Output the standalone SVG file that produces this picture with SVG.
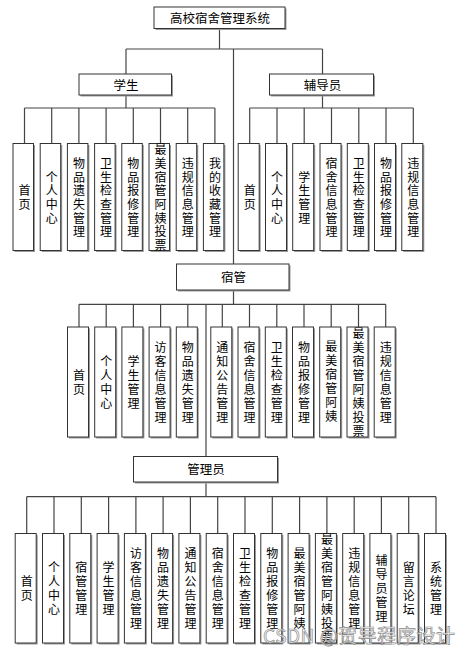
<svg xmlns="http://www.w3.org/2000/svg" width="469" height="656" viewBox="0 0 469 656">
<style>
.bx{fill:#fff;stroke:#333;stroke-width:1}
.sh{fill:#9a9a9a}
.v{font-family:"Noto Sans CJK SC","Noto Sans CJK JP",sans-serif;font-size:12px;fill:#000;text-anchor:middle;writing-mode:vertical-rl;text-orientation:upright;letter-spacing:2px}
.vs{letter-spacing:1.7px}
.h{font-family:"Noto Sans CJK SC","Noto Sans CJK JP",sans-serif;font-size:12.5px;fill:#000;text-anchor:middle}
#connectors line{stroke:#444;stroke-width:1.2}
.wm{font-family:"Noto Sans CJK SC","Noto Sans CJK JP",sans-serif;font-size:19px;fill:#fff;fill-opacity:0.75;stroke:#8a8a8a;stroke-width:0.7}
</style>
<rect width="469" height="656" fill="#fff"/>
<g id="connectors">
<line x1="219.5" y1="29" x2="219.5" y2="49"/>
<line x1="126" y1="49" x2="322.5" y2="49"/>
<line x1="233.5" y1="49" x2="233.5" y2="264"/>
<line x1="126" y1="49" x2="126" y2="74"/>
<line x1="322.5" y1="49" x2="322.5" y2="74"/>
<line x1="126" y1="96" x2="126" y2="108"/>
<line x1="24.5" y1="108" x2="214.9" y2="108"/>
<line x1="24.5" y1="108" x2="24.5" y2="143.5"/>
<line x1="51.7" y1="108" x2="51.7" y2="143.5"/>
<line x1="78.9" y1="108" x2="78.9" y2="143.5"/>
<line x1="106.1" y1="108" x2="106.1" y2="143.5"/>
<line x1="133.3" y1="108" x2="133.3" y2="143.5"/>
<line x1="160.5" y1="108" x2="160.5" y2="143.5"/>
<line x1="187.7" y1="108" x2="187.7" y2="143.5"/>
<line x1="214.9" y1="108" x2="214.9" y2="143.5"/>
<line x1="322.5" y1="96" x2="322.5" y2="108"/>
<line x1="249.7" y1="108" x2="413.3" y2="108"/>
<line x1="249.7" y1="108" x2="249.7" y2="143.5"/>
<line x1="277" y1="108" x2="277" y2="143.5"/>
<line x1="304.2" y1="108" x2="304.2" y2="143.5"/>
<line x1="331.5" y1="108" x2="331.5" y2="143.5"/>
<line x1="358.8" y1="108" x2="358.8" y2="143.5"/>
<line x1="386" y1="108" x2="386" y2="143.5"/>
<line x1="413.3" y1="108" x2="413.3" y2="143.5"/>
<line x1="233.5" y1="291" x2="233.5" y2="304.3"/>
<line x1="79" y1="304.3" x2="385.7" y2="304.3"/>
<line x1="79" y1="304.3" x2="79" y2="327"/>
<line x1="106.2" y1="304.3" x2="106.2" y2="327"/>
<line x1="133.4" y1="304.3" x2="133.4" y2="327"/>
<line x1="160.6" y1="304.3" x2="160.6" y2="327"/>
<line x1="187.8" y1="304.3" x2="187.8" y2="327"/>
<line x1="222.3" y1="304.3" x2="222.3" y2="327"/>
<line x1="249.5" y1="304.3" x2="249.5" y2="327"/>
<line x1="276.8" y1="304.3" x2="276.8" y2="327"/>
<line x1="304" y1="304.3" x2="304" y2="327"/>
<line x1="331.2" y1="304.3" x2="331.2" y2="327"/>
<line x1="358.5" y1="304.3" x2="358.5" y2="327"/>
<line x1="385.7" y1="304.3" x2="385.7" y2="327"/>
<line x1="206" y1="304.3" x2="206" y2="456.7"/>
<line x1="206" y1="483.3" x2="206" y2="496.7"/>
<line x1="26.7" y1="496.7" x2="436" y2="496.7"/>
<line x1="26.7" y1="496.7" x2="26.7" y2="533.5"/>
<line x1="54" y1="496.7" x2="54" y2="533.5"/>
<line x1="81.3" y1="496.7" x2="81.3" y2="533.5"/>
<line x1="108.6" y1="496.7" x2="108.6" y2="533.5"/>
<line x1="135.9" y1="496.7" x2="135.9" y2="533.5"/>
<line x1="163.1" y1="496.7" x2="163.1" y2="533.5"/>
<line x1="190.4" y1="496.7" x2="190.4" y2="533.5"/>
<line x1="217.7" y1="496.7" x2="217.7" y2="533.5"/>
<line x1="245" y1="496.7" x2="245" y2="533.5"/>
<line x1="272.3" y1="496.7" x2="272.3" y2="533.5"/>
<line x1="299.6" y1="496.7" x2="299.6" y2="533.5"/>
<line x1="326.9" y1="496.7" x2="326.9" y2="533.5"/>
<line x1="354.2" y1="496.7" x2="354.2" y2="533.5"/>
<line x1="381.4" y1="496.7" x2="381.4" y2="533.5"/>
<line x1="408.7" y1="496.7" x2="408.7" y2="533.5"/>
<line x1="436" y1="496.7" x2="436" y2="533.5"/>
</g>

<g id="root"><rect class="sh" x="155.5" y="8.5" width="131" height="21.5"/><rect class="bx" x="154" y="7" width="131" height="21.5"/><text class="h" x="220" y="22.5">高校宿舍管理系统</text></g>
<g id="student"><rect class="sh" x="80.5" y="75.5" width="92.5" height="21"/><rect class="bx" x="79" y="74" width="92.5" height="21"/><text class="h" x="126" y="89.5">学生</text></g>
<g id="counselor"><rect class="sh" x="271" y="75.5" width="104" height="21"/><rect class="bx" x="269.5" y="74" width="104" height="21"/><text class="h" x="322.5" y="89.5">辅导员</text></g>
<g id="dormmgr"><rect class="sh" x="178" y="265.5" width="112.5" height="26"/><rect class="bx" x="176.5" y="264" width="112.5" height="26"/><text class="h" x="233.5" y="281.5">宿管</text></g>
<g id="admin"><rect class="sh" x="135" y="458" width="144" height="25.5"/><rect class="bx" x="133.5" y="456.5" width="144" height="25.5"/><text class="h" x="206" y="474">管理员</text></g>

<!-- student children -->
<g id="s1"><rect class="sh" x="14.5" y="145" width="20.5" height="107"/><rect class="bx" x="13" y="143.5" width="20.5" height="107"/><text class="v vs" x="24.5" y="198.4">首页</text></g>
<g id="s2"><rect class="sh" x="41.7" y="145" width="20.5" height="107"/><rect class="bx" x="40.2" y="143.5" width="20.5" height="107"/><text class="v vs" x="51.7" y="198.4">个人中心</text></g>
<g id="s3"><rect class="sh" x="68.9" y="145" width="20.5" height="107"/><rect class="bx" x="67.4" y="143.5" width="20.5" height="107"/><text class="v vs" x="78.9" y="198.4">物品遗失管理</text></g>
<g id="s4"><rect class="sh" x="96.1" y="145" width="20.5" height="107"/><rect class="bx" x="94.6" y="143.5" width="20.5" height="107"/><text class="v vs" x="106.1" y="198.4">卫生检查管理</text></g>
<g id="s5"><rect class="sh" x="123.3" y="145" width="20.5" height="107"/><rect class="bx" x="121.8" y="143.5" width="20.5" height="107"/><text class="v vs" x="133.3" y="198.4">物品报修管理</text></g>
<g id="s6"><rect class="sh" x="150.5" y="145" width="20.5" height="107"/><rect class="bx" x="149" y="143.5" width="20.5" height="107"/><text class="v vs" x="160.5" y="198.4">最美宿管阿姨投票</text></g>
<g id="s7"><rect class="sh" x="177.7" y="145" width="20.5" height="107"/><rect class="bx" x="176.2" y="143.5" width="20.5" height="107"/><text class="v vs" x="187.7" y="198.4">违规信息管理</text></g>
<g id="s8"><rect class="sh" x="204.9" y="145" width="20.5" height="107"/><rect class="bx" x="203.4" y="143.5" width="20.5" height="107"/><text class="v vs" x="214.9" y="198.4">我的收藏管理</text></g>

<!-- counselor children -->
<g id="c1"><rect class="sh" x="239.7" y="145" width="21" height="107"/><rect class="bx" x="238.2" y="143.5" width="21" height="107"/><text class="v vs" x="249.7" y="198.4">首页</text></g>
<g id="c2"><rect class="sh" x="267" y="145" width="21" height="107"/><rect class="bx" x="265.5" y="143.5" width="21" height="107"/><text class="v vs" x="277" y="198.4">个人中心</text></g>
<g id="c3"><rect class="sh" x="294.2" y="145" width="21" height="107"/><rect class="bx" x="292.7" y="143.5" width="21" height="107"/><text class="v vs" x="304.2" y="198.4">学生管理</text></g>
<g id="c4"><rect class="sh" x="321.5" y="145" width="21" height="107"/><rect class="bx" x="320" y="143.5" width="21" height="107"/><text class="v vs" x="331.5" y="198.4">宿舍信息管理</text></g>
<g id="c5"><rect class="sh" x="348.8" y="145" width="21" height="107"/><rect class="bx" x="347.3" y="143.5" width="21" height="107"/><text class="v vs" x="358.8" y="198.4">卫生检查管理</text></g>
<g id="c6"><rect class="sh" x="376" y="145" width="21" height="107"/><rect class="bx" x="374.5" y="143.5" width="21" height="107"/><text class="v vs" x="386" y="198.4">物品报修管理</text></g>
<g id="c7"><rect class="sh" x="403.3" y="145" width="21" height="107"/><rect class="bx" x="401.8" y="143.5" width="21" height="107"/><text class="v vs" x="413.3" y="198.4">违规信息管理</text></g>

<!-- dorm manager children -->
<g id="d1"><rect class="sh" x="69" y="328.5" width="21" height="110"/><rect class="bx" x="67.5" y="327" width="21" height="110"/><text class="v" x="79" y="383.5">首页</text></g>
<g id="d2"><rect class="sh" x="96.2" y="328.5" width="21" height="110"/><rect class="bx" x="94.7" y="327" width="21" height="110"/><text class="v" x="106.2" y="383.5">个人中心</text></g>
<g id="d3"><rect class="sh" x="123.4" y="328.5" width="21" height="110"/><rect class="bx" x="121.9" y="327" width="21" height="110"/><text class="v" x="133.4" y="383.5">学生管理</text></g>
<g id="d4"><rect class="sh" x="150.6" y="328.5" width="21" height="110"/><rect class="bx" x="149.1" y="327" width="21" height="110"/><text class="v" x="160.6" y="383.5">访客信息管理</text></g>
<g id="d5"><rect class="sh" x="177.8" y="328.5" width="21" height="110"/><rect class="bx" x="176.3" y="327" width="21" height="110"/><text class="v" x="187.8" y="383.5">物品遗失管理</text></g>
<g id="d6"><rect class="sh" x="212.3" y="328.5" width="21" height="110"/><rect class="bx" x="210.8" y="327" width="21" height="110"/><text class="v" x="222.3" y="383.5">通知公告管理</text></g>
<g id="d7"><rect class="sh" x="239.5" y="328.5" width="21" height="110"/><rect class="bx" x="238" y="327" width="21" height="110"/><text class="v" x="249.5" y="383.5">宿舍信息管理</text></g>
<g id="d8"><rect class="sh" x="266.8" y="328.5" width="21" height="110"/><rect class="bx" x="265.3" y="327" width="21" height="110"/><text class="v" x="276.8" y="383.5">卫生检查管理</text></g>
<g id="d9"><rect class="sh" x="294" y="328.5" width="21" height="110"/><rect class="bx" x="292.5" y="327" width="21" height="110"/><text class="v" x="304" y="383.5">物品报修管理</text></g>
<g id="d10"><rect class="sh" x="321.2" y="328.5" width="21" height="110"/><rect class="bx" x="319.7" y="327" width="21" height="110"/><text class="v" x="331.2" y="382">最美宿管阿姨</text></g>
<g id="d11"><rect class="sh" x="348.5" y="328.5" width="21" height="110"/><rect class="bx" x="347" y="327" width="21" height="110"/><text class="v" x="358.5" y="383.5">最美宿管阿姨投票</text></g>
<g id="d12"><rect class="sh" x="375.7" y="328.5" width="21" height="110"/><rect class="bx" x="374.2" y="327" width="21" height="110"/><text class="v" x="385.7" y="383.5">违规信息管理</text></g>

<!-- admin children -->
<g id="a1"><rect class="sh" x="16.7" y="535" width="21" height="109.5"/><rect class="bx" x="15.2" y="533.5" width="21" height="109.5"/><text class="v" x="26.7" y="589.7">首页</text></g>
<g id="a2"><rect class="sh" x="44" y="535" width="21" height="109.5"/><rect class="bx" x="42.5" y="533.5" width="21" height="109.5"/><text class="v" x="54" y="589.7">个人中心</text></g>
<g id="a3"><rect class="sh" x="71.3" y="535" width="21" height="109.5"/><rect class="bx" x="69.8" y="533.5" width="21" height="109.5"/><text class="v" x="81.3" y="589.7">宿管管理</text></g>
<g id="a4"><rect class="sh" x="98.6" y="535" width="21" height="109.5"/><rect class="bx" x="97.1" y="533.5" width="21" height="109.5"/><text class="v" x="108.6" y="589.7">学生管理</text></g>
<g id="a5"><rect class="sh" x="125.9" y="535" width="21" height="109.5"/><rect class="bx" x="124.4" y="533.5" width="21" height="109.5"/><text class="v" x="135.9" y="589.7">访客信息管理</text></g>
<g id="a6"><rect class="sh" x="153.1" y="535" width="21" height="109.5"/><rect class="bx" x="151.6" y="533.5" width="21" height="109.5"/><text class="v" x="163.1" y="589.7">物品遗失管理</text></g>
<g id="a7"><rect class="sh" x="180.4" y="535" width="21" height="109.5"/><rect class="bx" x="178.9" y="533.5" width="21" height="109.5"/><text class="v" x="190.4" y="589.7">通知公告管理</text></g>
<g id="a8"><rect class="sh" x="207.7" y="535" width="21" height="109.5"/><rect class="bx" x="206.2" y="533.5" width="21" height="109.5"/><text class="v" x="217.7" y="589.7">宿舍信息管理</text></g>
<g id="a9"><rect class="sh" x="235" y="535" width="21" height="109.5"/><rect class="bx" x="233.5" y="533.5" width="21" height="109.5"/><text class="v" x="245" y="589.7">卫生检查管理</text></g>
<g id="a10"><rect class="sh" x="262.3" y="535" width="21" height="109.5"/><rect class="bx" x="260.8" y="533.5" width="21" height="109.5"/><text class="v" x="272.3" y="589.7">物品报修管理</text></g>
<g id="a11"><rect class="sh" x="289.6" y="535" width="21" height="109.5"/><rect class="bx" x="288.1" y="533.5" width="21" height="109.5"/><text class="v" x="299.6" y="589.7">最美宿管阿姨</text></g>
<g id="a12"><rect class="sh" x="316.9" y="535" width="21" height="109.5"/><rect class="bx" x="315.4" y="533.5" width="21" height="109.5"/><text class="v" x="326.9" y="589.7">最美宿管阿姨投票</text></g>
<g id="a13"><rect class="sh" x="344.2" y="535" width="21" height="109.5"/><rect class="bx" x="342.7" y="533.5" width="21" height="109.5"/><text class="v" x="354.2" y="589.7">违规信息管理</text></g>
<g id="a14"><rect class="sh" x="371.4" y="535" width="21" height="109.5"/><rect class="bx" x="369.9" y="533.5" width="21" height="109.5"/><text class="v" x="381.4" y="589.7">辅导员管理</text></g>
<g id="a15"><rect class="sh" x="398.7" y="535" width="21" height="109.5"/><rect class="bx" x="397.2" y="533.5" width="21" height="109.5"/><text class="v" x="408.7" y="589.7">留言论坛</text></g>
<g id="a16"><rect class="sh" x="426" y="535" width="21" height="109.5"/><rect class="bx" x="424.5" y="533.5" width="21" height="109.5"/><text class="v" x="436" y="589.7">系统管理</text></g>

<text class="wm" x="263" y="643" textLength="192">CSDN @贺导程序设计</text>
</svg>
